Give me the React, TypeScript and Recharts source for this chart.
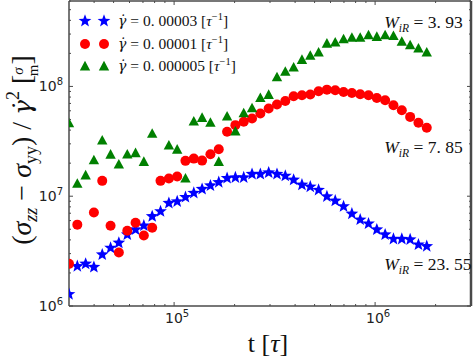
import { ScatterChart, Scatter, XAxis, YAxis, Legend, ReferenceDot } from "recharts"

// sampling times t [tau], shared by the three runs
const times = [
  30000, 33000, 36300, 39900, 43900, 48300, 53100, 58500, 64300, 70700,
  77800, 85600, 94200, 103600, 113900, 125300, 137800, 151600, 166800, 183500,
  201800, 222000, 244200, 268600, 295500, 325000, 357500, 393300, 432600, 475900,
  523500, 575800, 633400, 696800, 766500, 843100, 927400, 1020000, 1122000, 1234000,
  1358000, 1494000, 1643000, 1807000,
]

// gamma dot = 0.00003
const stressFast = [
  1.28e6, 2.3e6, 2.42e6, 2.26e6, 2.94e6, 3.38e6, 3.76e6, 4.47e6, 4.96e6, 5.39e6,
  6.55e6, 7.27e6, 8.65e6, 8.95e6, 9.8e6, 1.07e7, 1.16e7, 1.25e7, 1.34e7, 1.46e7,
  1.48e7, 1.48e7, 1.59e7, 1.59e7, 1.64e7, 1.59e7, 1.53e7, 1.41e7, 1.27e7, 1.22e7,
  1.14e7, 9.94e6, 9.08e6, 8.07e6, 6.92e6, 6.11e6, 5.62e6, 4.96e6, 4.47e6, 4.08e6,
  4.08e6, 4.03e6, 3.62e6, 3.5e6,
]

// gamma dot = 0.00001
const stressMid = [
  2.42e6, 5.51e6, null, 7.11e6, 1.38e7, 5.39e6, 3.07e6, 4.85e6, 5.74e6, 4.38e6,
  5.17e6, 1.38e7, 1.45e7, 1.51e7, 2.1e7, 2.2e7, 2.11e7, 2.41e7, 2.68e7, 3.86e7,
  4.44e7, 4.76e7, 5.11e7, 5.67e7, 6.29e7, 6.84e7, 7.38e7, 8.13e7, 8.3e7, 8.43e7,
  9.03e7, 9.35e7, 9.22e7, 8.9e7, 8.71e7, 8.48e7, 8.3e7, 7.85e7, 7.48e7, 6.74e7,
  6.07e7, 5.28e7, 4.66e7, 4.2e7,
]

// gamma dot = 0.000005
const stressSlow = [
  4.66e7, 1.31e7, 1.56e7, 2.14e7, 3.24e7, 2.41e7, 1.96e7, 2.42e7, 2.49e7, 2.07e7,
  3.73e7, null, 2.92e7, 2.68e7, 1.46e7, 4.83e7, 5.21e7, 4.7e7, 2.07e7, 5.36e7,
  3.92e7, 5.74e7, 6.37e7, 7.91e7, 8.43e7, 1.22e8, 1.37e8, 1.5e8, 1.76e8, 1.92e8,
  2.05e8, 2.47e8, 2.53e8, 2.71e8, 2.8e8, 2.8e8, 2.95e8, 2.85e8, 2.95e8, 2.9e8,
  2.57e8, 2.39e8, 2.23e8, 2.05e8,
]

const rateLabels = ["0. 00003", "0. 00001", "0. 000005"]
const wiLabels = ["3. 93", "7. 85", "23. 55"]
const wiAnchorT = [1110000, 1110000, 1110000]
const wiAnchorS = [3.4e8, 2.47e7, 2.15e6]

const xTicks = [
  40000, 50000, 60000, 70000, 80000, 90000, 100000,
  200000, 300000, 400000, 500000, 600000, 700000, 800000, 900000, 1000000,
  2000000, 3000000,
]
const yTicks = [
  1e6, 2e6, 3e6, 4e6, 5e6, 6e6, 7e6, 8e6, 9e6,
  1e7, 2e7, 3e7, 4e7, 5e7, 6e7, 7e7, 8e7, 9e7,
  1e8, 2e8, 3e8, 4e8, 5e8, 6e8,
]

const AXIS = "#4a4a4a"
const TICK_FONT = "'DejaVu Sans', sans-serif"
const MATH_FONT = "'Liberation Serif', 'DejaVu Serif', serif"
const GAMMA_FONT = "'DejaVu Serif', serif"

const toPoints = (vals: (number | null)[]) =>
  times.flatMap((t, i) => (vals[i] == null ? [] : [{ t, s: vals[i] }]))

const isMajor = (v: number) => Math.abs(Math.log10(v) - Math.round(Math.log10(v))) < 1e-6
const expOf = (v: number) => String(Math.round(Math.log10(v)))

type Kind = "star" | "circle" | "triangle"

const Marker = ({ kind, cx, cy, color }: { kind: Kind; cx: number; cy: number; color: string }) => {
  if (kind === "circle") return <circle cx={cx} cy={cy} r={5} fill={color} />
  if (kind === "triangle") {
    const s = 5.2
    return <path d={`M${cx},${cy - s}L${cx + s},${cy + s * 0.85}L${cx - s},${cy + s * 0.85}Z`} fill={color} />
  }
  const R = 6.7
  const r = R * 0.42
  let d = ""
  for (let k = 0; k < 10; k++) {
    const a = -Math.PI / 2 + (k * Math.PI) / 5
    const rad = k % 2 === 0 ? R : r
    d += `${k === 0 ? "M" : "L"}${cx + rad * Math.cos(a)},${cy + rad * Math.sin(a)}`
  }
  return <path d={d + "Z"} fill={color} />
}

const series: { key: string; data: { t: number; s: number | null }[]; color: string; kind: Kind; rate: string }[] = [
  { key: "fast", data: toPoints(stressFast), color: "#0000ff", kind: "star", rate: rateLabels[0] },
  { key: "mid", data: toPoints(stressMid), color: "#ff0000", kind: "circle", rate: rateLabels[1] },
  { key: "slow", data: toPoints(stressSlow), color: "#008000", kind: "triangle", rate: rateLabels[2] },
]

const BottomTick = ({ x, y, payload }: any) => {
  const major = isMajor(payload.value)
  return (
    <g>
      <line x1={x} x2={x} y1={y} y2={y - (major ? 4 : 2)} stroke={AXIS} />
      {major && (
        <text x={x + 3} y={y + 17} textAnchor="middle" fontSize={14} fontFamily={TICK_FONT} fill="#222">
          10<tspan dy={-6} fontSize={10}>{expOf(payload.value)}</tspan>
        </text>
      )}
    </g>
  )
}

const TopTick = ({ x, y, payload }: any) => (
  <line x1={x} x2={x} y1={y} y2={y + (isMajor(payload.value) ? 4 : 2)} stroke={AXIS} />
)

const LeftTick = ({ x, y, payload }: any) => {
  const major = isMajor(payload.value)
  return (
    <g>
      <line x1={x} x2={x + (major ? 4 : 2)} y1={y} y2={y} stroke={AXIS} />
      {major && (
        <text x={x - 6} y={y + 5} textAnchor="end" fontSize={14} fontFamily={TICK_FONT} fill="#222">
          10<tspan dy={-6} fontSize={10}>{expOf(payload.value)}</tspan>
        </text>
      )}
    </g>
  )
}

const RightTick = ({ x, y, payload }: any) => (
  <line x1={x} x2={x - (isMajor(payload.value) ? 4 : 2)} y1={y} y2={y} stroke={AXIS} />
)

const XTitle = ({ viewBox }: any) => (
  <text
    x={viewBox.x + viewBox.width / 2 - 2}
    y={viewBox.y + 46}
    textAnchor="middle"
    fontSize={26}
    fontFamily={MATH_FONT}
    fill="#111"
  >
    t [<tspan fontStyle="italic">τ</tspan>]
  </text>
)

const YTitle = () => (
  <text transform="translate(31,150) rotate(-90)" textAnchor="middle" fontSize={28} fontFamily={MATH_FONT} fill="#111">
    (<tspan fontStyle="italic">σ</tspan>
    <tspan fontSize={18} fontStyle="italic" dy={6}>zz</tspan>
    <tspan dy={-6}> − </tspan>
    <tspan fontStyle="italic">σ</tspan>
    <tspan fontSize={18} dy={6}>yy</tspan>
    <tspan dy={-6}>) / </tspan>
    <tspan fontStyle="italic" fontFamily={GAMMA_FONT} fontSize={25}>γ̇</tspan>
    <tspan fontSize={18} dy={-12}>2</tspan>
    <tspan dy={12}> [</tspan>
    <tspan fontSize={15} fontStyle="italic" dy={-8}>σ</tspan>
    <tspan fontSize={15} dx={-9} dy={15}>m</tspan>
    <tspan dy={-7}>]</tspan>
  </text>
)

const LegendBox = () => (
  <div style={{ fontFamily: MATH_FONT, fontSize: 15.5, color: "#111" }}>
    {series.map((s) => (
      <div key={s.key} style={{ display: "flex", alignItems: "center", height: 22.5 }}>
        <svg width={33} height={14} style={{ display: "block", overflow: "visible" }}>
          <Marker kind={s.kind} cx={7} cy={7} color={s.color} />
          <Marker kind={s.kind} cx={26} cy={7} color={s.color} />
        </svg>
        <span style={{ marginLeft: 7, whiteSpace: "nowrap" }}>
          <i style={{ fontFamily: GAMMA_FONT, fontSize: 14 }}>γ̇</i> = {s.rate} [<i>τ</i>
          <span style={{ fontSize: 10.5, position: "relative", top: -6 }}>−1</span>]
        </span>
      </div>
    ))}
  </div>
)

const WiLabel = ({ cx, cy, text }: any) => (
  <text x={cx} y={cy} fontSize={17.5} fontFamily={MATH_FONT} fill="#111">
    <tspan fontStyle="italic">W</tspan>
    <tspan fontSize={11.5} fontStyle="italic" dy={4}>iR</tspan>
    <tspan dy={-4}> = {text}</tspan>
  </text>
)

export default function App() {
  return (
    <div style={{ position: "absolute", left: 0, top: 0, background: "#fff" }}>
      <ScatterChart width={474} height={358} margin={{ top: 0, right: 0, bottom: 0, left: 0 }}>
        <XAxis
          xAxisId="b"
          type="number"
          dataKey="t"
          scale="log"
          domain={[30000, 3000000]}
          allowDataOverflow
          ticks={xTicks}
          interval={0}
          height={52}
          tickSize={0}
          tickMargin={0}
          tick={<BottomTick />}
          axisLine={{ stroke: AXIS, strokeWidth: 1.5 }}
          label={<XTitle />}
        />
        <XAxis
          xAxisId="top"
          orientation="top"
          type="number"
          dataKey="t"
          scale="log"
          domain={[30000, 3000000]}
          allowDataOverflow
          ticks={xTicks}
          interval={0}
          height={1}
          tickSize={0}
          tickMargin={0}
          tick={<TopTick />}
          axisLine={{ stroke: AXIS, strokeWidth: 1.5 }}
        />
        <YAxis
          yAxisId="l"
          type="number"
          dataKey="s"
          scale="log"
          domain={[1e6, 6e8]}
          allowDataOverflow
          ticks={yTicks}
          interval={0}
          width={69}
          tickSize={0}
          tickMargin={0}
          tick={<LeftTick />}
          axisLine={{ stroke: AXIS, strokeWidth: 1.5 }}
          label={<YTitle />}
        />
        <YAxis
          yAxisId="r"
          orientation="right"
          type="number"
          dataKey="s"
          scale="log"
          domain={[1e6, 6e8]}
          allowDataOverflow
          ticks={yTicks}
          interval={0}
          width={3}
          tickSize={0}
          tickMargin={0}
          tick={<RightTick />}
          axisLine={{ stroke: AXIS, strokeWidth: 2.5 }}
        />
        <Legend
          layout="vertical"
          align="center"
          verticalAlign="middle"
          content={<LegendBox />}
          wrapperStyle={{ left: 78, top: 10, width: "auto" }}
        />
        {series.map((s) => (
          <Scatter
            key={s.key}
            xAxisId="b"
            yAxisId="l"
            data={s.data}
            isAnimationActive={false}
            shape={(p: any) => <Marker kind={s.kind} cx={p.cx} cy={p.cy} color={s.color} />}
          />
        ))}
        {wiLabels.map((w, i) => (
          <ReferenceDot
            key={w}
            xAxisId="b"
            yAxisId="l"
            x={wiAnchorT[i]}
            y={wiAnchorS[i]}
            r={1}
            ifOverflow="visible"
            shape={(p: any) => <WiLabel cx={p.cx} cy={p.cy} text={w} />}
          />
        ))}
      </ScatterChart>
    </div>
  )
}
